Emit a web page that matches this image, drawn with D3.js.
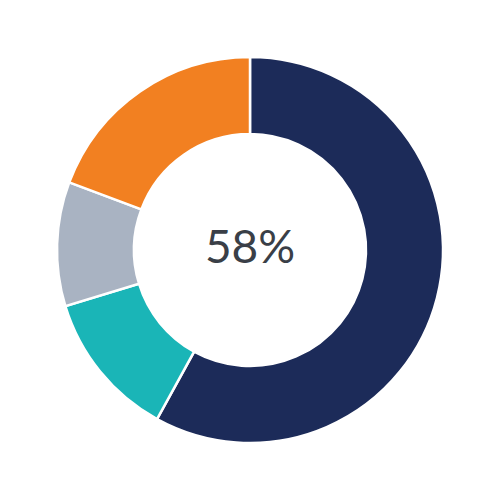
<!DOCTYPE html>
<html><head><meta charset="utf-8">
<script src="https://cdn.jsdelivr.net/npm/d3@7"></script>
<style>html,body{margin:0;padding:0;background:#fff;}</style>
</head><body>
<svg id="chart" width="500" height="500"></svg>
<script>
const categories = ["A", "B", "C", "D"];
const values = [58, 12.3, 10.4, 19.3];
const colors = ["#1c2b59", "#1ab5b7", "#a9b3c2", "#f28021"];
const centerLabel = "58%";

const svg = d3.select("#chart");
const g = svg.append("g").attr("transform", "translate(250,250)");
const pie = d3.pie().sort(null).value(d => d.v);
const arc = d3.arc().innerRadius(116).outerRadius(193);
const data = categories.map((c, i) => ({c, v: values[i], col: colors[i]}));
g.selectAll("path").data(pie(data)).join("path")
  .attr("d", arc)
  .attr("fill", d => d.data.col)
  .attr("stroke", "#fff")
  .attr("stroke-width", 2.5);
g.append("text").text(centerLabel)
  .attr("text-anchor", "middle")
  .attr("y", 13)
  .attr("font-family", "Lato, sans-serif")
  .attr("font-size", 46)
  .attr("fill", "#3a3f47");
</script>
</body></html>
